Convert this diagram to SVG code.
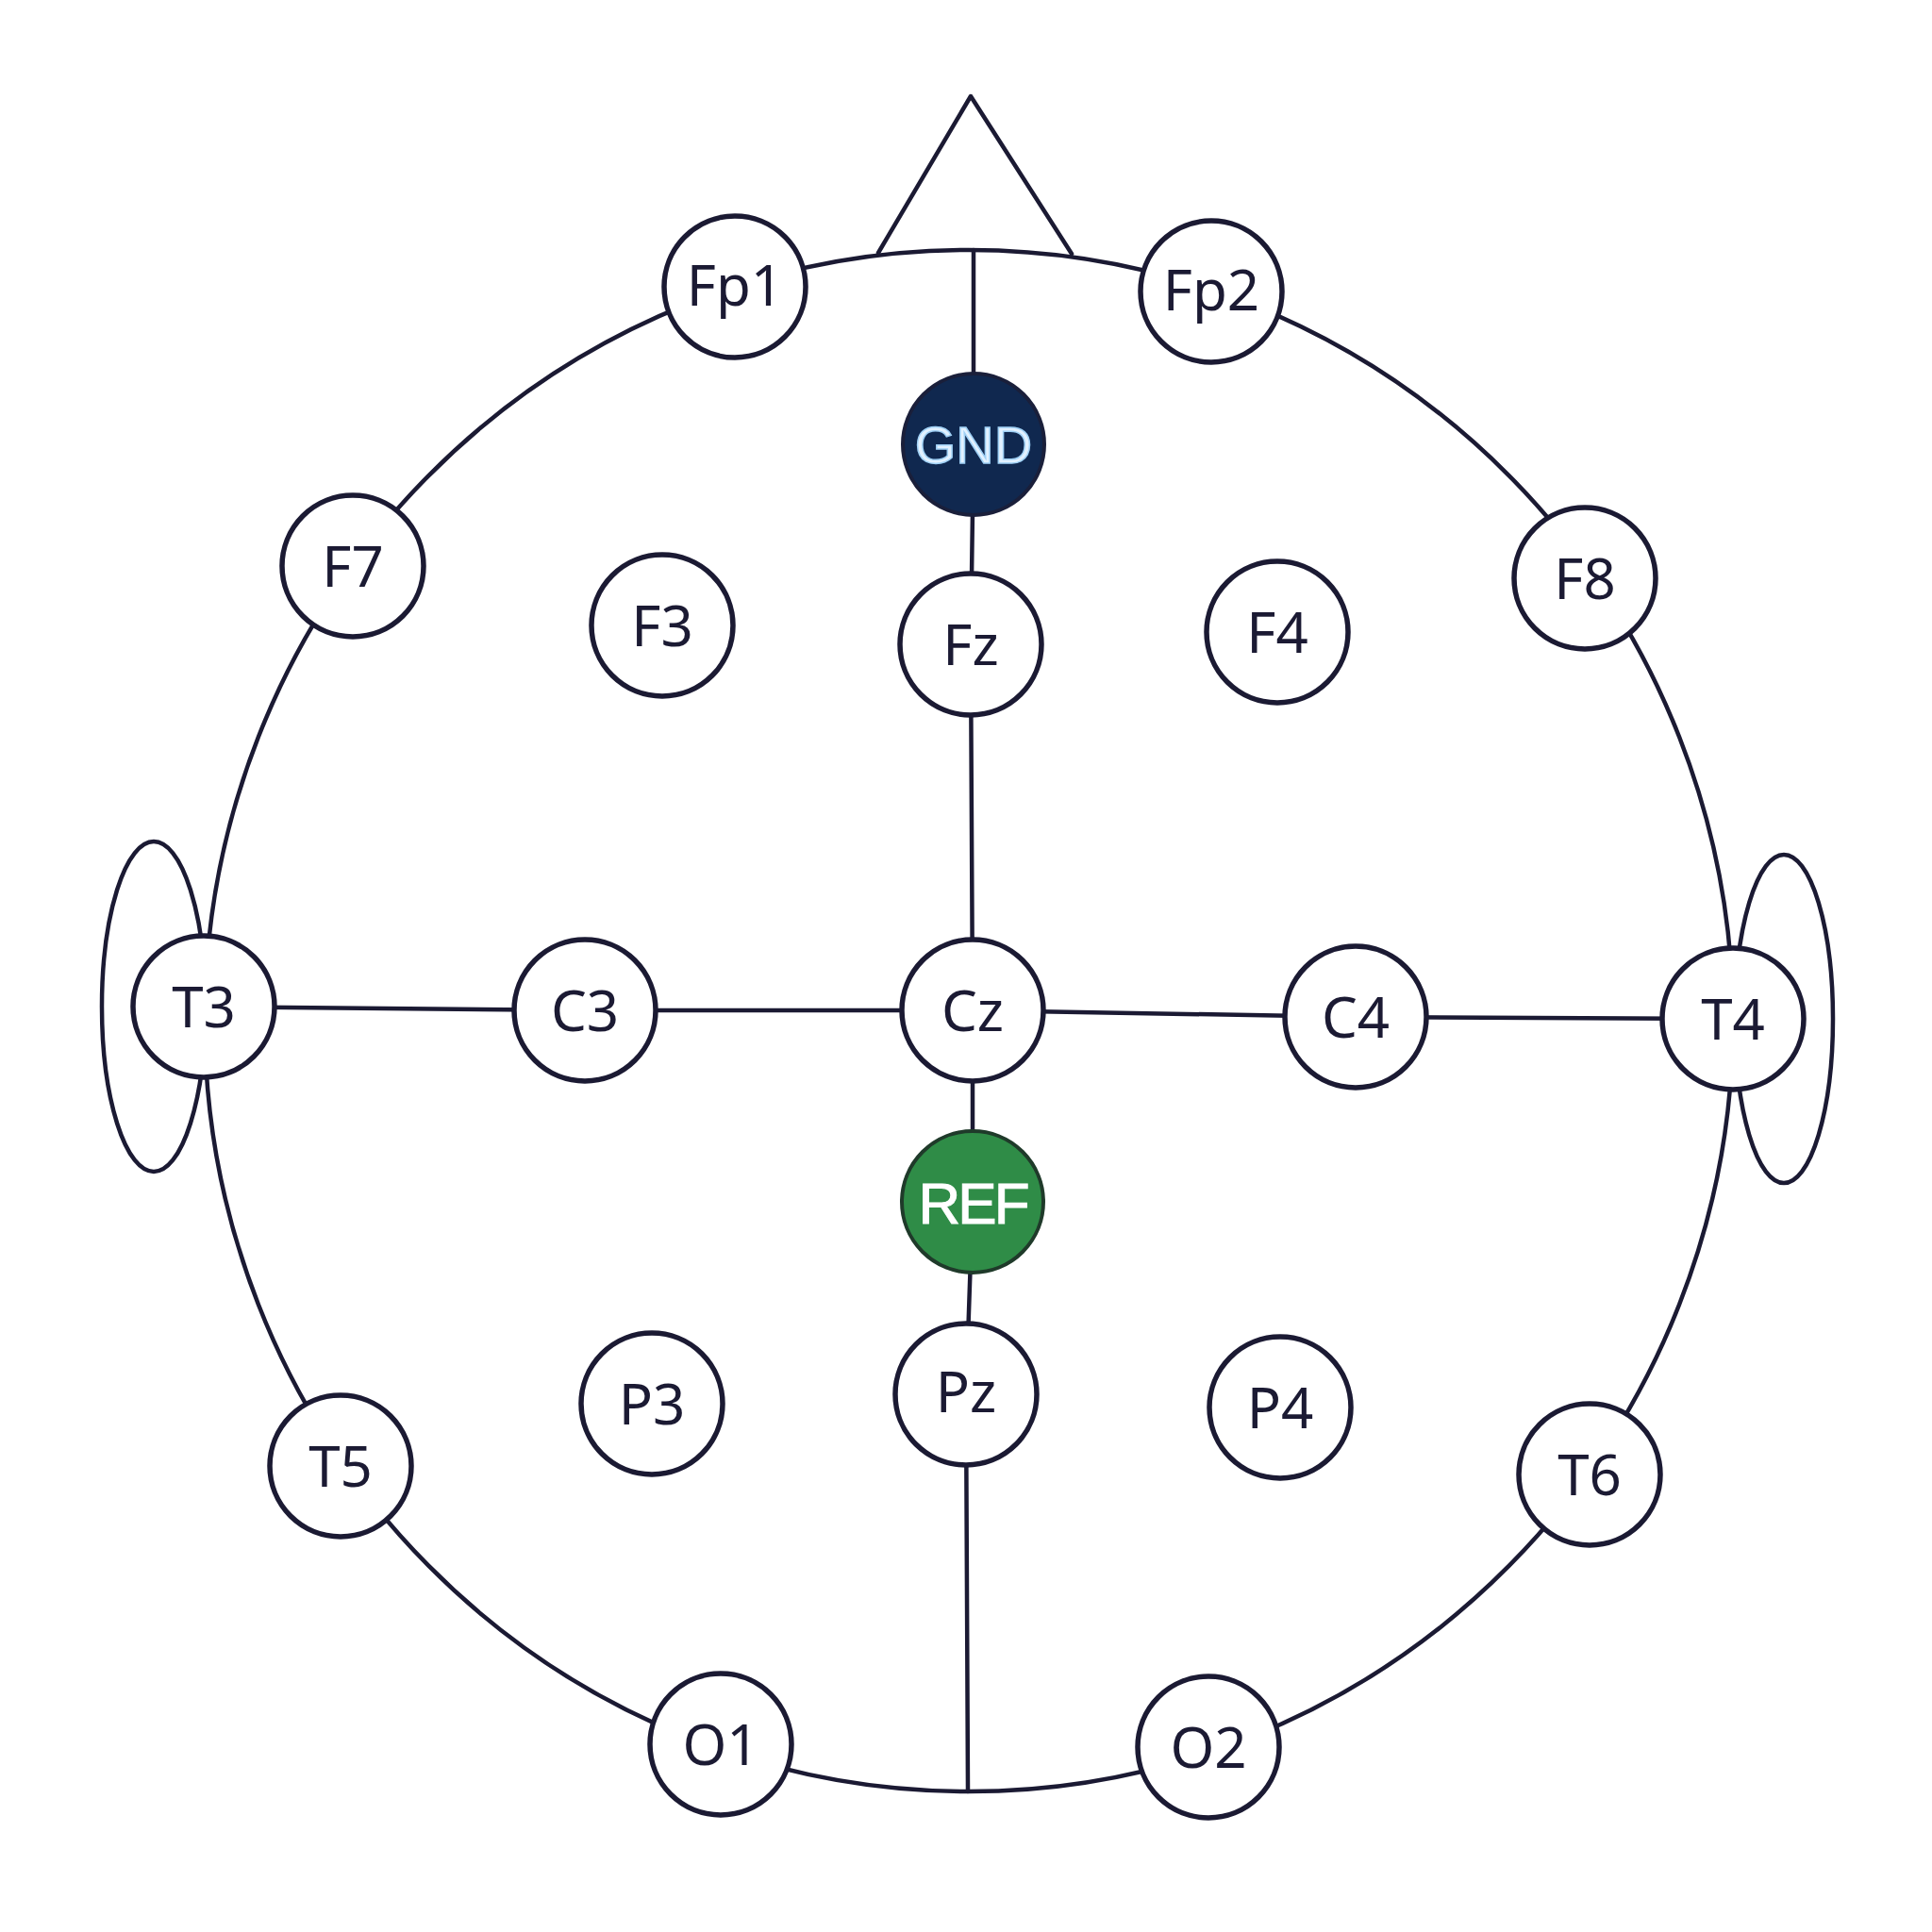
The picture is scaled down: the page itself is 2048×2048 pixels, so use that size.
<svg xmlns="http://www.w3.org/2000/svg" width="2048" height="2048" viewBox="0 0 2048 2048">
<style>
.ln{fill:none;stroke:#1b1a33;stroke-width:4.5;stroke-linecap:round;stroke-linejoin:round}
.nd{fill:#ffffff;stroke:#1b1a33;stroke-width:5.5}
.lb{font-family:"Noto Sans","Open Sans",sans-serif;font-size:60px;fill:#1b1a33;text-anchor:middle}
.wl{font-family:"Liberation Sans",Arial,sans-serif;text-anchor:middle}
</style>
<rect width="2048" height="2048" fill="#ffffff"/>
<g id="head">
<ellipse cx="163" cy="1067" rx="55" ry="175" class="ln"/>
<ellipse cx="1891" cy="1080" rx="52" ry="174" class="ln"/>
<ellipse cx="1027" cy="1082" rx="810" ry="817" class="ln" stroke-width="4"/>
<polyline points="931,268 1029,102 1136,269" class="ln"/>
</g>
<g id="connectors">
<polyline points="1032,265 1032,471 1029,683 1031,1071 1031,1274 1024,1478 1026,1899" class="ln"/>
<polyline points="216,1067 620,1071 1031,1071 1437,1078 1837,1080" class="ln"/>
</g>
<g id="Fp1"><circle cx="779" cy="304" r="75" class="nd"/><text x="779" y="324" class="lb">Fp1</text></g>
<g id="Fp2"><circle cx="1284" cy="309" r="75" class="nd"/><text x="1284" y="329" class="lb">Fp2</text></g>
<g id="GND"><circle cx="1032" cy="471" r="75" fill="#10284f" stroke="#1a1f3a" stroke-width="4"/><text x="1032" y="491" class="wl" font-size="56" fill="#e2f1ff" stroke="#9fd0f5" stroke-width="1.5">GND</text></g>
<g id="F7"><circle cx="374" cy="600" r="75" class="nd"/><text x="374" y="622" class="lb">F7</text></g>
<g id="F3"><circle cx="702" cy="663" r="75" class="nd"/><text x="702" y="685" class="lb">F3</text></g>
<g id="Fz"><circle cx="1029" cy="683" r="75" class="nd"/><text x="1029" y="705" class="lb">Fz</text></g>
<g id="F4"><circle cx="1354" cy="670" r="75" class="nd"/><text x="1354" y="692" class="lb">F4</text></g>
<g id="F8"><circle cx="1680" cy="613" r="75" class="nd"/><text x="1680" y="635" class="lb">F8</text></g>
<g id="T3"><circle cx="216" cy="1067" r="75" class="nd"/><text x="216" y="1089" class="lb">T3</text></g>
<g id="C3"><circle cx="620" cy="1071" r="75" class="nd"/><text x="620" y="1093" class="lb">C3</text></g>
<g id="Cz"><circle cx="1031" cy="1071" r="75" class="nd"/><text x="1031" y="1093" class="lb">Cz</text></g>
<g id="C4"><circle cx="1437" cy="1078" r="75" class="nd"/><text x="1437" y="1100" class="lb">C4</text></g>
<g id="T4"><circle cx="1837" cy="1080" r="75" class="nd"/><text x="1837" y="1102" class="lb">T4</text></g>
<g id="REF"><circle cx="1031" cy="1274" r="75" fill="#2f8c47" stroke="#1f3a2a" stroke-width="4"/><text x="1031" y="1297" class="wl" font-size="62" letter-spacing="-3" fill="#ffffff" stroke="#ffffff" stroke-width="1">REF</text></g>
<g id="P3"><circle cx="691" cy="1488" r="75" class="nd"/><text x="691" y="1510" class="lb">P3</text></g>
<g id="Pz"><circle cx="1024" cy="1478" r="75" class="nd"/><text x="1024" y="1497" class="lb">Pz</text></g>
<g id="P4"><circle cx="1357" cy="1492" r="75" class="nd"/><text x="1357" y="1514" class="lb">P4</text></g>
<g id="T5"><circle cx="361" cy="1554" r="75" class="nd"/><text x="361" y="1576" class="lb">T5</text></g>
<g id="T6"><circle cx="1685" cy="1563" r="75" class="nd"/><text x="1685" y="1585" class="lb">T6</text></g>
<g id="O1"><circle cx="764" cy="1849" r="75" class="nd"/><text x="764" y="1871" class="lb">O1</text></g>
<g id="O2"><circle cx="1281" cy="1852" r="75" class="nd"/><text x="1281" y="1874" class="lb">O2</text></g>
</svg>
